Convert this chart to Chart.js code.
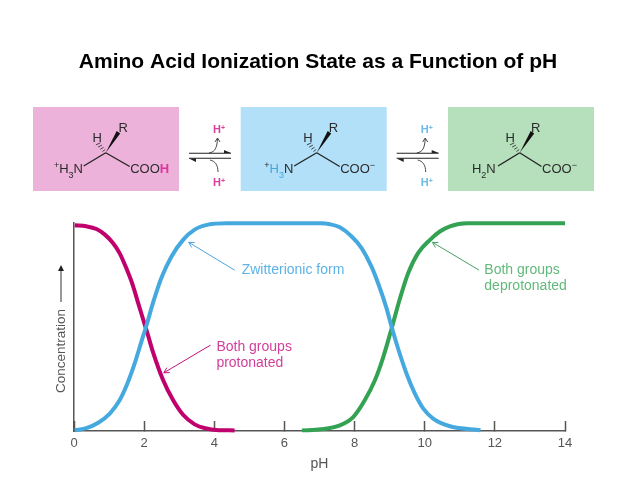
<!DOCTYPE html>
<html>
<head>
<meta charset="utf-8">
<title>Amino Acid Ionization State as a Function of pH</title>
<script src="https://cdn.jsdelivr.net/npm/chart.js@4/dist/chart.umd.min.js"></script>
<style>
  html, body { margin: 0; padding: 0; background: #fff; }
  #stage { position: relative; width: 638px; height: 479px; overflow: hidden; }
  #chart { position: absolute; left: 0; top: 0; }
  #structures { position: absolute; left: 0; top: 0; }
  #structures text { font-family: "Liberation Sans", Arial, sans-serif; font-size: 13px; fill: #2b2b2b; }
</style>
</head>
<body>
<div id="stage">
  <canvas id="chart" width="638" height="479"></canvas>
  <svg id="structures" width="638" height="210" xmlns="http://www.w3.org/2000/svg"></svg>
</div>
<script>
  const chartTitle = "Amino Acid Ionization State as a Function of pH";
  const xTitle = "pH";
  const yTitle = "Concentration";

  const protonatedPh = [0.02, 0.35, 0.64, 0.88, 1.11, 1.3, 1.49, 1.68, 1.83, 2.02, 2.11, 2.25, 2.54, 2.82, 3.11, 3.44, 3.78, 4.06, 4.58];
  const protonatedConc = [99, 98.5, 97.2, 94.5, 90.5, 85.6, 78.4, 70, 61.5, 51.1, 46.1, 38.1, 24.5, 15, 7.8, 3.2, 1.2, 0.5, 0.3];

  const zwitterPh = [0.02, 0.35, 0.69, 1.02, 1.3, 1.54, 1.73, 1.92, 2.07, 2.25, 2.49, 2.78, 3.11, 3.44, 3.82, 4.35, 7.04, 7.3, 7.58, 7.91, 8.2, 8.48, 8.72, 8.91, 9.05, 9.24, 9.48, 9.72, 9.96, 10.24, 10.72, 11.59];
  const zwitterConc = [0.3, 1.4, 4, 8.4, 14.8, 23.6, 32.5, 42.9, 51, 61.5, 73.6, 84, 92, 96.9, 99.3, 100, 100, 99.5, 98, 93.7, 88, 79.2, 68.8, 59.1, 50.5, 39.7, 27.7, 18, 10.8, 6, 2.3, 0.4];

  const deprotonatedPh = [6.5, 7.04, 7.58, 7.96, 8.29, 8.58, 8.82, 9.05, 9.29, 9.53, 9.81, 10.15, 10.43, 10.72, 11.2, 14];
  const deprotonatedConc = [0.3, 0.8, 2.7, 6.7, 14.8, 24.4, 35.7, 49, 63.5, 76, 85.6, 92, 96, 98.5, 100, 100];

  const pairs = (xs, ys) => xs.map((x, i) => ({ x: x, y: ys[i] }));

  // callouts are placed in chart units so they stay tied to the axes
  const callouts = [
    { lines: ["Zwitterionic form"], color: "#5cb3e6", lineColor: "#4aa5dc", textAt: [4.78, 75.5], tail: [4.58, 77.4], head: [3.27, 90.8] },
    { lines: ["Both groups", "protonated"], color: "#d23f9a", lineColor: "#c2107a", textAt: [4.06, 38.5], tail: [3.89, 41.3], head: [2.56, 28] },
    { lines: ["Both groups", "deprotonated"], color: "#63b97c", lineColor: "#4a9e68", textAt: [11.7, 75.5], tail: [11.55, 77.4], head: [10.22, 90.8] }
  ];

  function arrowHead(ctx, x, y, angle, size) {
    ctx.beginPath();
    ctx.moveTo(x + Math.cos(angle - 0.5) * size, y + Math.sin(angle - 0.5) * size);
    ctx.lineTo(x, y);
    ctx.lineTo(x + Math.cos(angle + 0.5) * size, y + Math.sin(angle + 0.5) * size);
    ctx.stroke();
  }

  const calloutPlugin = {
    id: "callouts",
    afterDraw(chart) {
      const ctx = chart.ctx;
      const sx = chart.scales.x;
      const sy = chart.scales.y;
      ctx.save();
      ctx.font = '14px "Liberation Sans", Arial, sans-serif';
      ctx.textBaseline = "alphabetic";
      callouts.forEach((c) => {
        const tx = sx.getPixelForValue(c.tail[0]);
        const ty = sy.getPixelForValue(c.tail[1]);
        const hx = sx.getPixelForValue(c.head[0]);
        const hy = sy.getPixelForValue(c.head[1]);
        ctx.strokeStyle = c.lineColor;
        ctx.lineWidth = 1;
        ctx.beginPath();
        ctx.moveTo(tx, ty);
        ctx.lineTo(hx, hy);
        ctx.stroke();
        arrowHead(ctx, hx, hy, Math.atan2(ty - hy, tx - hx), 6);
        ctx.fillStyle = c.color;
        c.lines.forEach((line, i) => {
          ctx.fillText(line, sx.getPixelForValue(c.textAt[0]), sy.getPixelForValue(c.textAt[1]) + i * 16);
        });
      });

      // y axis label with its upward arrow
      ctx.fillStyle = "#555";
      ctx.strokeStyle = "#333";
      ctx.translate(65, 393);
      ctx.rotate(-Math.PI / 2);
      ctx.font = '13.5px "Liberation Sans", Arial, sans-serif';
      ctx.fillText(yTitle, 0, 0);
      ctx.lineWidth = 1;
      ctx.beginPath();
      ctx.moveTo(91, -4);
      ctx.lineTo(122, -4);
      ctx.stroke();
      ctx.fillStyle = "#222";
      ctx.beginPath();
      ctx.moveTo(128, -4);
      ctx.lineTo(122, -7);
      ctx.lineTo(122, -1);
      ctx.closePath();
      ctx.fill();
      ctx.restore();
    }
  };

  new Chart(document.getElementById("chart"), {
    type: "line",
    data: {
      datasets: [
        { label: "Zwitterionic form", data: pairs(zwitterPh, zwitterConc), borderColor: "#45a9e0" },
        { label: "Both groups protonated", data: pairs(protonatedPh, protonatedConc), borderColor: "#c0006c" },
        { label: "Both groups deprotonated", data: pairs(deprotonatedPh, deprotonatedConc), borderColor: "#34a253" }
      ].map((d) => Object.assign(d, { borderWidth: 4, pointRadius: 0, cubicInterpolationMode: "monotone", clip: false, fill: false }))
    },
    options: {
      responsive: false,
      animation: false,
      layout: { padding: { left: 71, right: 73 } },
      scales: {
        x: {
          type: "linear",
          min: 0,
          max: 14,
          afterFit(scale) { scale.height = 48; },
          border: { color: "#555", width: 1.5 },
          grid: { display: true, drawOnChartArea: false, tickLength: -10, tickColor: "#555", tickWidth: 1.5 },
          ticks: { stepSize: 2, maxRotation: 0, padding: 15, color: "#555", font: { family: '"Liberation Sans", Arial, sans-serif', size: 13 } },
          title: { display: true, text: xTitle, color: "#555", padding: { top: 0, bottom: 6 }, font: { family: '"Liberation Sans", Arial, sans-serif', size: 14 } }
        },
        y: {
          min: 0,
          max: 100,
          afterFit(scale) { scale.width = 3; },
          border: { color: "#555", width: 1.5 },
          grid: { display: false, drawTicks: false },
          ticks: { display: false }
        }
      },
      plugins: {
        legend: { display: false },
        tooltip: { enabled: false },
        title: {
          display: true,
          text: chartTitle,
          color: "#000",
          padding: { top: 50, bottom: 148 },
          font: { family: '"Liberation Sans", Arial, sans-serif', size: 21, weight: "bold" }
        }
      }
    },
    plugins: [calloutPlugin]
  });

  // the three molecule panels and the equilibrium arrows above the plot
  const panels = [
    { left: 33, fill: "#edb2da", cx: 72.7, hx: 59.5, rx: 85.5, nEnd: 50, nBond: 50.7, cBond: 96.7, amine: '<tspan baseline-shift="super" font-size="9">+</tspan>H<tspan baseline-shift="sub" font-size="9">3</tspan>N', acid: 'COO<tspan fill="#e0359c" font-weight="bold">H</tspan>' },
    { left: 240.7, fill: "#b2e0f8", cx: 76, hx: 62.5, rx: 88, nEnd: 52.7, nBond: 53.5, cBond: 99, amine: '<tspan baseline-shift="super" font-size="9">+</tspan><tspan fill="#4aa5dc">H<tspan baseline-shift="sub" font-size="9">3</tspan></tspan>N', acid: 'COO<tspan baseline-shift="super" font-size="9">&#8722;</tspan>' },
    { left: 448, fill: "#b6dfbb", cx: 71.7, hx: 57.5, rx: 83, nEnd: 47.7, nBond: 50, cBond: 93.5, amine: 'H<tspan baseline-shift="sub" font-size="9">2</tspan>N', acid: 'COO<tspan baseline-shift="super" font-size="9">&#8722;</tspan>' }
  ];

  const equilibria = [
    { left: 189, color: "#d8409c" },
    { left: 396.7, color: "#6cbbe8" }
  ];

  function panelSvg(p) {
    const top = 107;
    const cy = top + 45.7;
    const cx = p.left + p.cx;
    let hash = "";
    for (let i = 1; i <= 4; i++) {
      const hxp = cx - i * 1.9;
      const hyp = cy - i * 2.2;
      hash += `<line x1="${hxp - 1 - i * 0.3}" y1="${hyp + 1}" x2="${hxp + 1 + i * 0.3}" y2="${hyp - 1}" stroke="#222" stroke-width="0.8"/>`;
    }
    return `
      <rect x="${p.left}" y="${top}" width="146" height="84" fill="${p.fill}"/>
      <line x1="${cx}" y1="${cy}" x2="${p.left + p.nBond}" y2="${top + 59}" stroke="#222" stroke-width="1.3"/>
      <line x1="${cx}" y1="${cy}" x2="${p.left + p.cBond}" y2="${top + 59.5}" stroke="#222" stroke-width="1.3"/>
      <polygon points="${cx},${cy} ${cx + 11},${top + 24} ${cx + 14.5},${top + 26.5}" fill="#111"/>
      ${hash}
      <text x="${p.left + p.hx}" y="${top + 35}">H</text>
      <text x="${p.left + p.rx}" y="${top + 25}">R</text>
      <text x="${p.left + p.nEnd}" y="${top + 66}" text-anchor="end">${p.amine}</text>
      <text x="${p.left + p.cBond + 0.5}" y="${top + 66}">${p.acid}</text>`;
  }

  function equilibriumSvg(e) {
    const x = e.left;
    return `
      <line x1="${x}" y1="153.3" x2="${x + 42}" y2="153.3" stroke="#222" stroke-width="1.1"/>
      <line x1="${x}" y1="158.3" x2="${x + 42}" y2="158.3" stroke="#222" stroke-width="1.1"/>
      <polygon points="${x + 42},153 ${x + 35},153 ${x + 35},150" fill="#222"/>
      <polygon points="${x},158.6 ${x + 7},158.6 ${x + 7},162" fill="#222"/>
      <path d="M${x + 20} 153 C${x + 27} 152 ${x + 28} 146 ${x + 28.5} 139" fill="none" stroke="#333" stroke-width="0.9"/>
      <path d="M${x + 26} 142 L${x + 28.5} 138 L${x + 31} 142" fill="none" stroke="#333" stroke-width="0.9"/>
      <path d="M${x + 21} 160 C${x + 26} 161 ${x + 29} 165 ${x + 29} 172" fill="none" stroke="#333" stroke-width="0.9"/>
      <text x="${x + 24}" y="133" style="fill:${e.color};font-size:11px;font-weight:bold">H<tspan baseline-shift="super" font-size="7">+</tspan></text>
      <text x="${x + 24}" y="186" style="fill:${e.color};font-size:11px;font-weight:bold">H<tspan baseline-shift="super" font-size="7">+</tspan></text>`;
  }

  document.getElementById("structures").innerHTML =
    panels.map(panelSvg).join("") + equilibria.map(equilibriumSvg).join("");
</script>
</body>
</html>
